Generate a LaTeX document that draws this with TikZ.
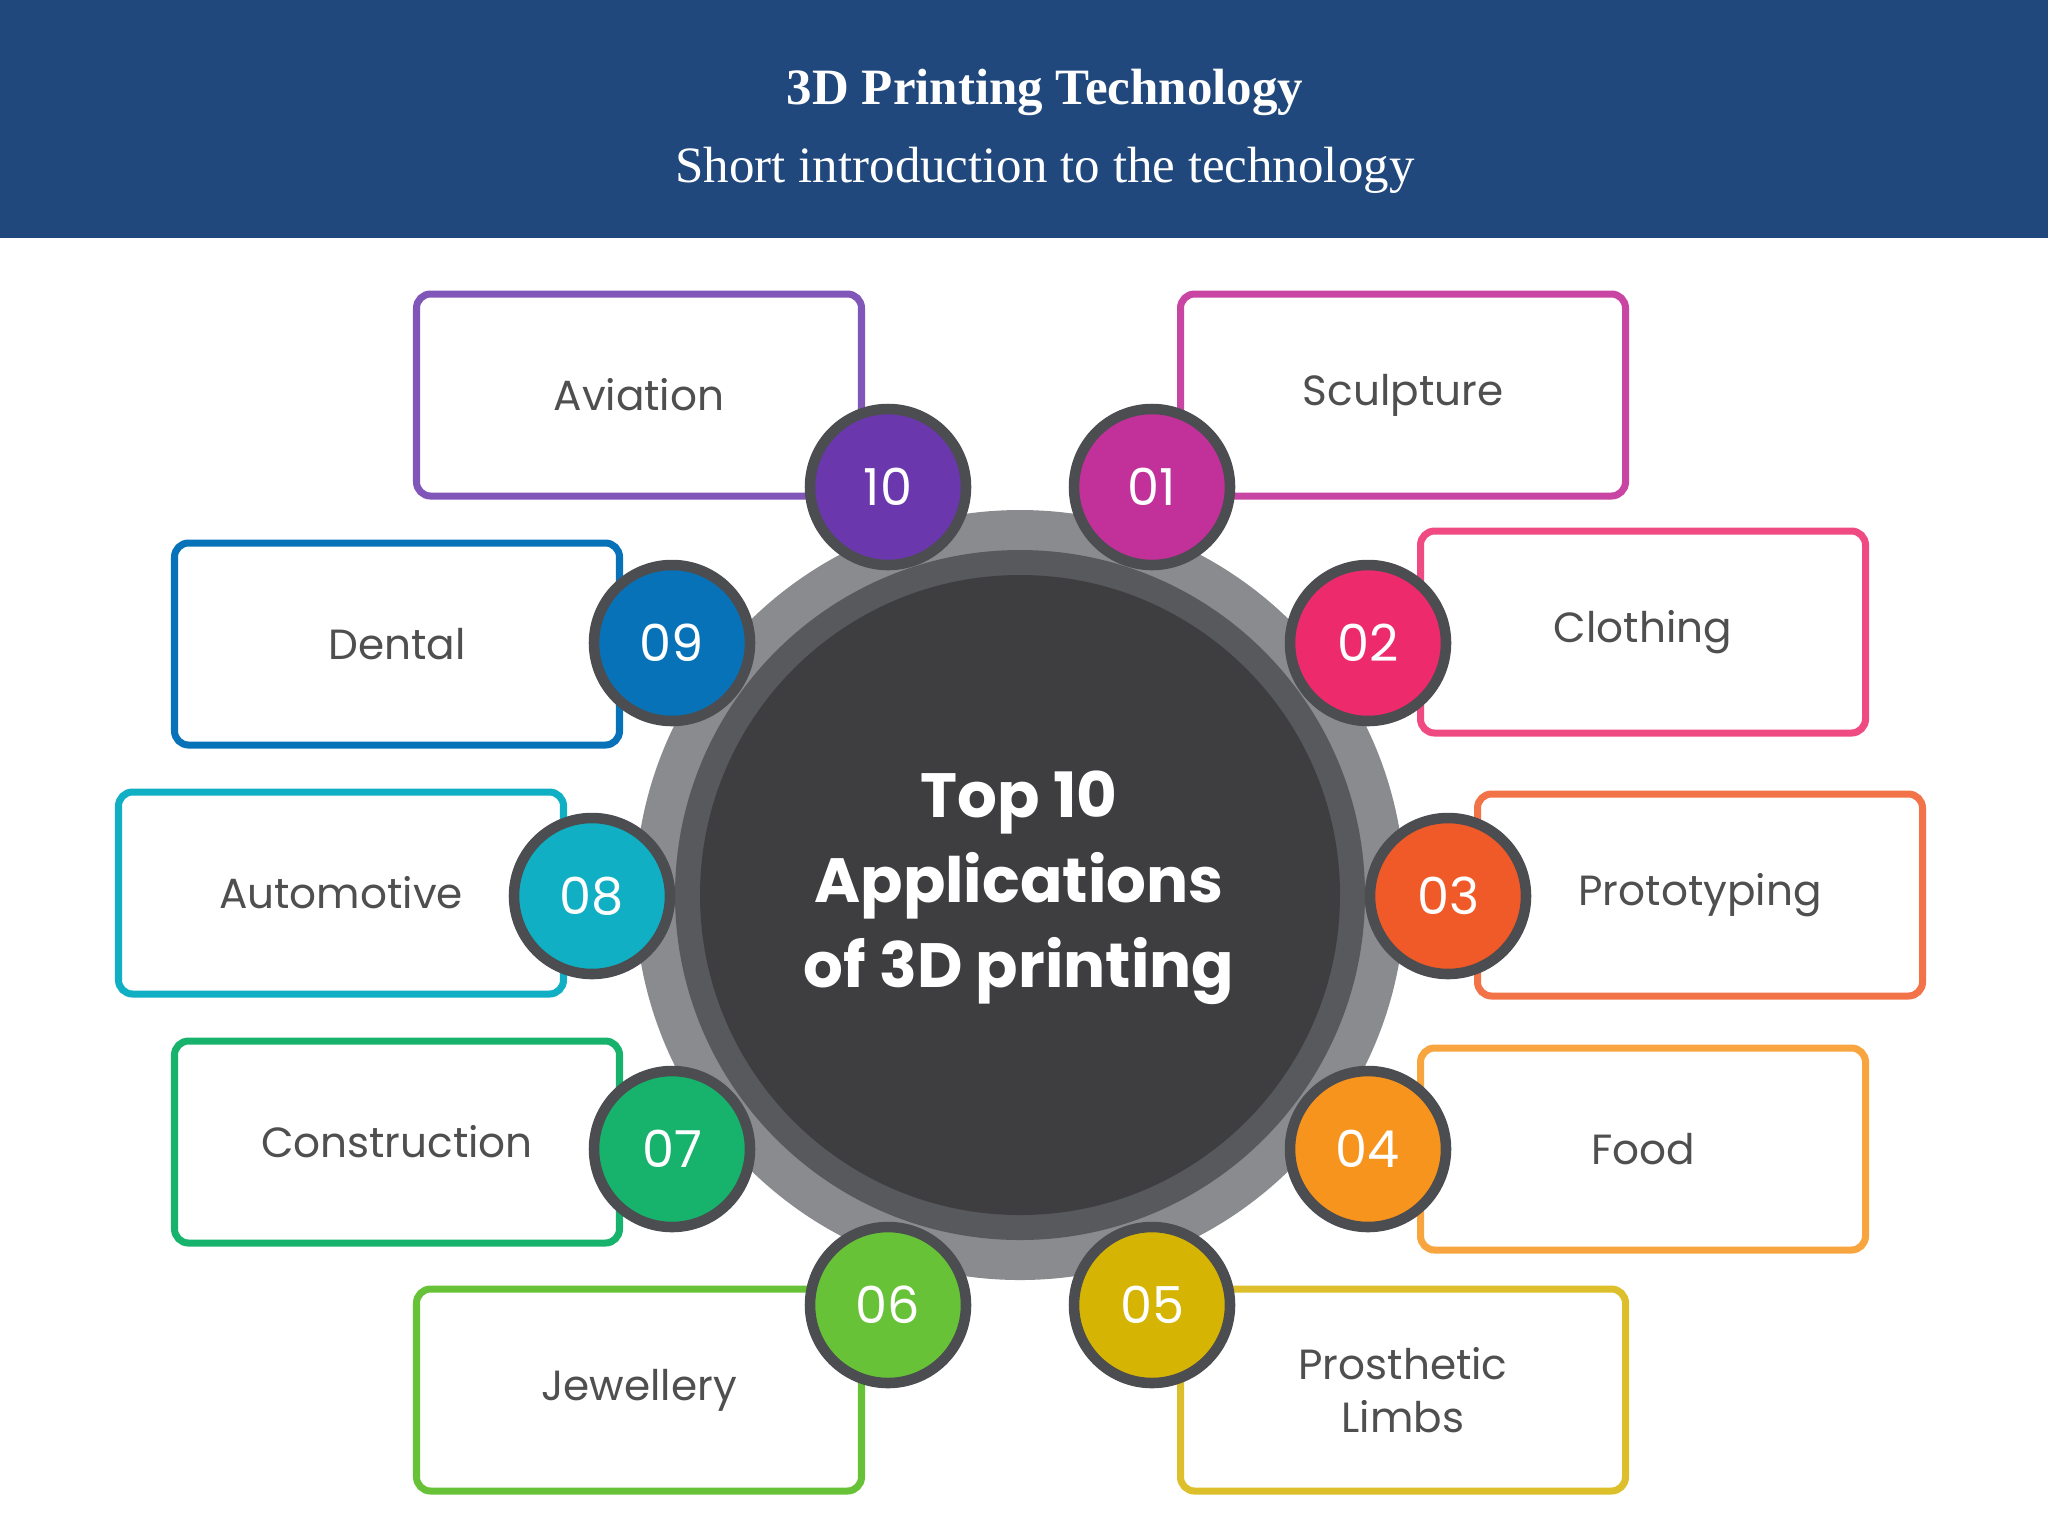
\documentclass[tikz,border=0pt]{standalone}
\usepackage{fontspec}
\setmainfont{Liberation Serif}
\setsansfont{Poppins}
\definecolor{band}{HTML}{20487C}
\definecolor{ringout}{HTML}{8A8B8E}
\definecolor{ringmid}{HTML}{58595C}
\definecolor{core}{HTML}{3E3E41}
\definecolor{rim}{HTML}{4B4D51}
\definecolor{labelgray}{HTML}{4F4F4F}
\definecolor{cA}{HTML}{C2309A}
\definecolor{cB}{HTML}{EC2A6C}
\definecolor{cC}{HTML}{F05A28}
\definecolor{cD}{HTML}{F7941D}
\definecolor{cE}{HTML}{D6B404}
\definecolor{cF}{HTML}{68C238}
\definecolor{cG}{HTML}{17B26C}
\definecolor{cH}{HTML}{10AFC3}
\definecolor{cI}{HTML}{0872B8}
\definecolor{cJ}{HTML}{6A38AC}
\begin{document}
\begin{tikzpicture}[x=0.1mm,y=-0.1mm,
    appbox/.style={draw=#1,line width=2pt,rounded corners=4pt,fill=white,minimum width=44.5mm,minimum height=20.2mm,
        align=center,text=labelgray,font=\sffamily\fontsize{12}{15}\selectfont},
    numdot/.style={circle,draw=rim,line width=3pt,fill=#1,minimum size=15.6mm,inner sep=0pt,
        text=white,font=\sffamily\fontsize{14.5}{16}\selectfont}]
        \useasboundingbox(0,0)rectangle(2048,1536);
        % header band
        \fill[band](0,0)rectangle(2048,238);
        \node[text=white,font=\bfseries\fontsize{14.5}{17}\selectfont] (title) at (1045,92){3D Printing Technology};
        \node[text=white,font=\fontsize{14.5}{17}\selectfont] (subtitle) at (1045,170){Short introduction to the technology};
        % application boxes
        \node[appbox=cJ!85] (aviation) at (639,395){Aviation};
        \node[appbox=cA!90] (sculpture) at (1403,395){Sculpture};
        \node[appbox=cI] (dental) at (397,644){Dental};
        \node[appbox=cB!85] (clothing) at (1643,632){Clothing};
        \node[appbox=cH] (automotive) at (341,893){Automotive};
        \node[appbox=cC!85] (prototyping) at (1700,895){Prototyping};
        \node[appbox=cG] (construction) at (397,1142){Construction};
        \node[appbox=cD!85] (food) at (1643,1149){Food};
        \node[appbox=cF] (jewellery) at (639,1390){Jewellery};
        \node[appbox=cE!85] (limbs) at (1403,1390){Prosthetic\\Limbs};
        % hub
        \fill[ringout](1020,895)circle(38.5mm);
        \fill[ringmid](1020,895)circle(34.5mm);
        \fill[core](1020,895)circle(32mm);
        \node[text=white,align=center,font=\sffamily\bfseries\fontsize{17.8}{24.2}\selectfont] (hub) at (1019,888){Top 10\\Applications\\of 3D printing};
        % numbered dots
        \node[numdot=cA] (n01) at (1152,487){01};
        \node[numdot=cB] (n02) at (1368,643){02};
        \node[numdot=cC] (n03) at (1448,896){03};
        \node[numdot=cD] (n04) at (1368,1149){04};
        \node[numdot=cE] (n05) at (1152,1305){05};
        \node[numdot=cF] (n06) at (888,1305){06};
        \node[numdot=cG] (n07) at (672,1149){07};
        \node[numdot=cH] (n08) at (592,896){08};
        \node[numdot=cI] (n09) at (672,643){09};
        \node[numdot=cJ] (n10) at (888,487){10};
    \end{tikzpicture}
\end{document}
